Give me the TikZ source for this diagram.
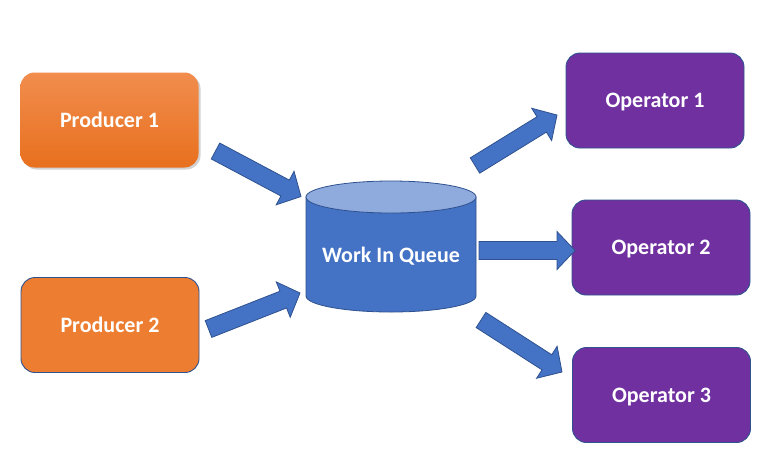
\documentclass[tikz,border=0pt]{standalone}
\usepackage{fontspec}
\setmainfont{Carlito}
\usetikzlibrary{calc,shadows}
\definecolor{blk}{HTML}{4472C4}
\definecolor{blkline}{HTML}{2F528F}
\definecolor{blktop}{HTML}{8FAADC}
\definecolor{orng}{HTML}{ED7D31}
\definecolor{orngtop}{RGB}{241,141,78}
\definecolor{orngbot}{RGB}{232,112,30}
\definecolor{purp}{HTML}{7030A0}
\tikzset{
  box/.style={rounded corners=14pt, draw=blkline, line width=0.9pt, text=white,
    font=\fontsize{22}{26}\selectfont\bfseries, inner sep=0pt,
    text height=14pt, text depth=0pt,
    minimum width=178pt, minimum height=95pt},
  barrow/.style={fill=blk, draw=blkline, line width=0.8pt, line join=miter},
  lbl/.style={text=white, font=\fontsize{22}{26}\selectfont\bfseries, inner sep=0pt,
    text height=14pt, text depth=0pt},
}
\newcommand\blockarrow[2]{%
  \draw[barrow] let \p1=(#1), \p2=(#2), \n1={atan2(\y2-\y1,\x2-\x1)} in
    ($(\p1)+(\n1+90:9pt)$) -- ($(\p2)+(\n1:-18pt)+(\n1+90:9pt)$)
    -- ($(\p2)+(\n1:-18pt)+(\n1+90:19pt)$) -- (\p2)
    -- ($(\p2)+(\n1:-18pt)+(\n1-90:19pt)$) -- ($(\p2)+(\n1:-18pt)+(\n1-90:9pt)$)
    -- ($(\p1)+(\n1-90:9pt)$) -- cycle;}
\begin{document}
\begin{tikzpicture}[x=1pt,y=-1pt]
  \fill[white] (0,0) rectangle (768,459);
  \useasboundingbox (0,0) rectangle (768,459);
  % producers
  \node[box, draw=none, top color=orngtop, bottom color=orngbot,
        drop shadow={shadow xshift=2pt, shadow yshift=-2pt, opacity=0.35}]
        (p1) at (109.5,120) {Producer 1};
  \node[box, fill=orng] (p2) at (110,325) {Producer 2};
  % operators
  \node[box, fill=purp] (o1) at (655,100.5) {Operator 1};
  \node[box, fill=purp] (o2) at (661,247.5) {Operator 2};
  \node[box, fill=purp] (o3) at (661.5,395) {Operator 3};
  % queue cylinder
  \draw[fill=blk, draw=blkline, line width=0.8pt] (306,197) -- (306,296)
     arc[start angle=180, end angle=360, x radius=85pt, y radius=16pt] -- (476,197) -- cycle;
  \draw[fill=blktop, draw=blkline, line width=0.8pt] (391,197) ellipse [x radius=85pt, y radius=16pt];
  \node[lbl] (q) at (391,255) {Work In Queue};
  % arrow end points
  \coordinate (a1t) at (215.5,151);  \coordinate (a1h) at (301,196.5);
  \coordinate (a2t) at (208.5,329);  \coordinate (a2h) at (300,293);
  \coordinate (a3t) at (475,165.5);  \coordinate (a3h) at (557,115);
  \coordinate (a4t) at (479,250.5);  \coordinate (a4h) at (575,250.5);
  \coordinate (a5t) at (481,320);    \coordinate (a5h) at (562,372);
  \blockarrow{a1t}{a1h}
  \blockarrow{a2t}{a2h}
  \blockarrow{a3t}{a3h}
  \blockarrow{a4t}{a4h}
  \blockarrow{a5t}{a5h}
\end{tikzpicture}
\end{document}
